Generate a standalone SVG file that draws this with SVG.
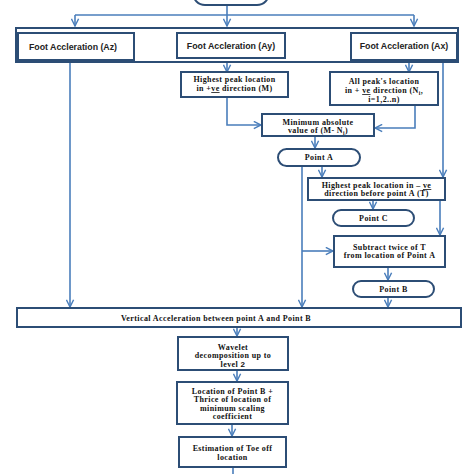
<svg xmlns="http://www.w3.org/2000/svg" width="474" height="474" viewBox="0 0 474 474">
<defs>
<marker id="ar" viewBox="0 0 10 10" refX="9" refY="5" markerWidth="9" markerHeight="9" markerUnits="userSpaceOnUse" orient="auto">
<path d="M1,1 L9,5 L1,9" fill="none" stroke="#4a7ebb" stroke-width="1.6"/>
</marker>
<style>
.b{fill:#fff;stroke:#2c4d75;stroke-width:2}
.c{fill:none;stroke:#4a7ebb;stroke-width:1.6}
.a{marker-end:url(#ar)}
.s{font-family:"Liberation Sans",Arial,sans-serif;font-size:8.8px;font-weight:bold;fill:#222;text-anchor:middle}
.t{font-family:"Liberation Serif","Times New Roman",serif;font-size:8px;font-weight:bold;fill:#111;text-anchor:middle;letter-spacing:0.4px}
</style>
</defs>
<rect width="474" height="474" fill="#fff"/>
<g id="connectors">
<path class="c" d="M227,5 V15"/>
<path class="c" d="M75,15 H414"/>
<path class="c a" d="M75,15 V26"/>
<path class="c a" d="M227,15 V26"/>
<path class="c a" d="M414,15 V26"/>
<path class="c a" d="M70,62 V307"/>
<path class="c a" d="M227,62 V72"/>
<path class="c a" d="M409,62 V72"/>
<path class="c a" d="M443,62 V177"/>
<path class="c a" d="M227,97 V125 H261"/>
<path class="c a" d="M415,105 V128 H375"/>
<path class="c a" d="M315,136 V148"/>
<path class="c a" d="M302,166 V307"/>
<path class="c a" d="M322,166 V177"/>
<path class="c a" d="M302,251 H333"/>
<path class="c a" d="M373,200 V209"/>
<path class="c a" d="M440,200 V235"/>
<path class="c a" d="M388,267 V280"/>
<path class="c a" d="M388,297 V307"/>
<path class="c a" d="M237,327 V336"/>
<path class="c a" d="M237,370 V381"/>
<path class="c a" d="M232,424 V436"/>
<path class="c" d="M233,467 V474"/>
</g>
<g id="start"><rect class="b" x="193" y="-20" width="76" height="25" rx="12"/></g>
<g id="outer"><rect class="b" x="16" y="28" width="442" height="34"/></g>
<g id="az"><rect class="b" x="18" y="33" width="116" height="27"/><text class="s" x="73" y="50">Foot Accleration (Az)</text></g>
<g id="ay"><rect class="b" x="177" y="33" width="108" height="25"/><text class="s" x="231" y="49">Foot Accleration (Ay)</text></g>
<g id="ax"><rect class="b" x="351" y="33" width="106" height="27"/><text class="s" x="404" y="49">Foot Accleration (Ax)</text></g>
<g id="highpos"><rect class="b" x="181" y="72" width="107" height="25"/>
<text class="t" x="234.5" y="82">Highest peak location</text>
<text class="t" x="234.5" y="91">in  +<tspan text-decoration="underline">ve</tspan> direction (M)</text></g>
<g id="allpeak"><rect class="b" x="330" y="72" width="108" height="33"/>
<text class="t" x="384" y="84">All peak's location</text>
<text class="t" x="384" y="93">in  + <tspan text-decoration="underline">ve</tspan> direction (N<tspan font-size="5.5" dy="1.5">i</tspan><tspan dy="-1.5">,</tspan></text>
<text class="t" x="384" y="102">i=1,2..n)</text></g>
<g id="minabs"><rect class="b" x="262" y="114" width="112" height="22"/>
<text class="t" x="318" y="125">Minimum absolute</text>
<text class="t" x="318" y="133">value of (M- N<tspan font-size="5.5" dy="1.5">i</tspan><tspan dy="-1.5">)</tspan></text></g>
<g id="pointa"><rect class="b" x="278" y="149" width="82" height="17" rx="8.5"/><text class="t" x="319" y="160">Point A</text></g>
<g id="highneg"><rect class="b" x="308" y="178" width="137" height="22"/>
<text class="t" x="376.5" y="188">Highest peak location in – <tspan text-decoration="underline">ve</tspan></text>
<text class="t" x="376.5" y="196">direction before point A (T)</text></g>
<g id="pointc"><rect class="b" x="333" y="210" width="81" height="16" rx="8"/><text class="t" x="373.5" y="221">Point C</text></g>
<g id="subtract"><rect class="b" x="334" y="236" width="111" height="31"/>
<text class="t" x="389.5" y="250">Subtract twice of T</text>
<text class="t" x="389.5" y="258">from location of Point A</text></g>
<g id="pointb"><rect class="b" x="353" y="281" width="81" height="16" rx="8"/><text class="t" x="393.5" y="292">Point B</text></g>
<g id="vertical"><rect class="b" x="17" y="308" width="444" height="19"/>
<text class="t" x="216" y="321">Vertical Acceleration between point A and Point B</text></g>
<g id="wavelet"><rect class="b" x="178" y="337" width="110" height="33"/>
<text class="t" x="233" y="349.5">Wavelet</text>
<text class="t" x="233" y="358">decomposition up to</text>
<text class="t" x="233" y="367">level <tspan font-family="'Liberation Sans',Arial,sans-serif" font-size="8">2</tspan></text></g>
<g id="location"><rect class="b" x="177" y="382" width="111" height="42"/>
<text class="t" x="232.5" y="394">Location of Point B +</text>
<text class="t" x="232.5" y="402">Thrice of location of</text>
<text class="t" x="232.5" y="411">minimum  scaling</text>
<text class="t" x="232.5" y="419">coefficient</text></g>
<g id="estimation"><rect class="b" x="179" y="437" width="107" height="30"/>
<text class="t" x="232.5" y="451">Estimation of Toe off</text>
<text class="t" x="232.5" y="460">location</text></g>
</svg>
